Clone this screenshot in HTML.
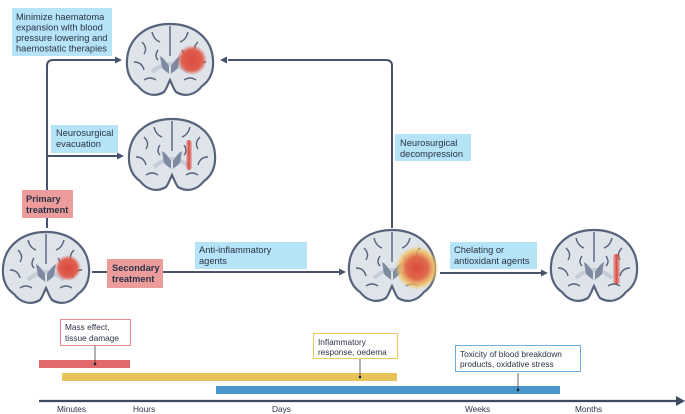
<!DOCTYPE html>
<html><head><meta charset="utf-8"><style>
body{margin:0;background:#fff;}
svg{display:block;font-family:"Liberation Sans",sans-serif;}
</style></head><body>
<svg width="685" height="414" viewBox="0 0 685 414" xmlns="http://www.w3.org/2000/svg">
<defs>
<g id="brain">
<path d="M46 2 C20 2 4 18 3 38 C2 52 8 60 14 64 C20 72 30 76 40 70 C43 66 44 62 46 58 C48 62 49 66 52 70 C62 76 72 72 78 64 C84 60 90 52 89 38 C88 18 72 2 46 2 Z" fill="#dfe3ea" stroke="#56637a" stroke-width="2.2"/>
<path d="M46 4 V34 M18 20 q6 6 2 12 M28 10 q2 8 8 10 M64 10 q-2 8 -8 10 M74 20 q-6 6 -2 12 M10 40 q8 0 10 8 M82 40 q-8 0 -10 8 M20 58 q6 -4 12 0 M72 58 q-6 -4 -12 0 M34 28 q-4 6 0 10 M58 28 q4 6 0 10" fill="none" stroke="#56637a" stroke-width="1.4"/>
<path d="M28 50 q18 -16 36 0" fill="none" stroke="#c6ccd7" stroke-width="4"/>
<path d="M36 34 q4 2 9 10 v8 h2 v-8 q5 -8 9 -10 l-2 12 q-4 4 -8 6 q-4 -2 -8 -6 Z" fill="#7d8aa0"/>
</g>
<radialGradient id="rd"><stop offset="0" stop-color="#d94a3f"/><stop offset=".7" stop-color="#e06050"/><stop offset="1" stop-color="#e06050" stop-opacity="0"/></radialGradient>
<radialGradient id="ry"><stop offset="0" stop-color="#d94a3f"/><stop offset=".5" stop-color="#e06a4a"/><stop offset=".8" stop-color="#f0c060" stop-opacity=".8"/><stop offset="1" stop-color="#f5d070" stop-opacity="0"/></radialGradient>
<linearGradient id="rs" x1="0" x2="1"><stop offset="0" stop-color="#e06050" stop-opacity=".3"/><stop offset=".5" stop-color="#d94a3f"/><stop offset="1" stop-color="#e06050" stop-opacity=".3"/></linearGradient>
</defs>
<g stroke="#46536b" stroke-width="2" fill="none">
<path d="M47 228 V66 q0 -6 6 -6 H116"/>
<path d="M47 156 H118"/>
<path d="M92 272 H340"/>
<path d="M392 228 V66 q0 -6 -6 -6 H228"/>
<path d="M440 273 H542"/>
</g>
<g fill="#46536b">
<path d="M122 60 l-7 -3.5 v7 Z"/><path d="M124 156 l-7 -3.5 v7 Z"/>
<path d="M346 272 l-7 -3.5 v7 Z"/><path d="M220 60 l7 -3.5 v7 Z"/><path d="M548 273 l-7 -3.5 v7 Z"/>
</g>
<use href="#brain" x="124" y="22"/>
<circle cx="192" cy="60" r="15" fill="url(#rd)"/>
<use href="#brain" x="126" y="117"/>
<rect x="186" y="140" width="6" height="30" rx="3" fill="url(#rs)"/>
<use href="#brain" x="0" y="230"/>
<circle cx="68" cy="268" r="13" fill="url(#rd)"/>
<use href="#brain" x="346" y="228"/>
<circle cx="417" cy="268" r="22" fill="url(#ry)"/>
<use href="#brain" x="548" y="228"/>
<rect x="613" y="254" width="7" height="30" rx="3" fill="url(#rs)"/>
<g fill="#b5e3f7">
<rect x="12" y="8" width="100" height="48"/>
<rect x="51" y="125" width="67" height="28"/>
<rect x="195" y="242" width="112" height="27"/>
<rect x="395" y="134" width="76" height="27"/>
<rect x="450" y="242" width="87" height="27"/>
</g>
<g fill="#ed9c9c"><rect x="22" y="190" width="51" height="28"/><rect x="107" y="259" width="56" height="29"/></g>
<g font-size="9.3" fill="#2a3244">
<text x="16" y="20">Minimize haematoma</text><text x="16" y="30.5">expansion with blood</text><text x="16" y="41">pressure lowering and</text><text x="16" y="51.5">haemostatic therapies</text>
<text x="56" y="136">Neurosurgical</text><text x="56" y="147">evacuation</text>
<text x="199" y="253">Anti-inflammatory</text><text x="199" y="264">agents</text>
<text x="400" y="146">Neurosurgical</text><text x="400" y="157">decompression</text>
<text x="454" y="253">Chelating or</text><text x="454" y="264">antioxidant agents</text>
</g>
<g font-size="9.3" font-weight="bold" fill="#2a3244">
<text x="26" y="202">Primary</text><text x="26" y="213">treatment</text>
<text x="112" y="271">Secondary</text><text x="112" y="282">treatment</text>
</g>
<rect x="39" y="360" width="91" height="8" fill="#e06a6a"/>
<rect x="62" y="373" width="335" height="8" fill="#e8c35a"/>
<rect x="216" y="386" width="344" height="8" fill="#4a97cc"/>
<g stroke="#3a3a3a" stroke-width="0.8"><path d="M95 345 V364 M360 358 V377 M518 373 V390"/></g>
<g fill="#222"><circle cx="95" cy="364" r="1.3"/><circle cx="360" cy="377" r="1.3"/><circle cx="518" cy="390" r="1.3"/></g>
<rect x="60.5" y="319.5" width="70" height="26" fill="#fff" stroke="#e88a8a"/>
<rect x="313.5" y="333.5" width="84" height="25" fill="#fff" stroke="#ecc860"/>
<rect x="455.5" y="345.5" width="125" height="26" fill="#fff" stroke="#6aaee0"/>
<g font-size="8.3" fill="#2a3244">
<text x="65" y="330">Mass effect,</text><text x="65" y="341">tissue damage</text>
<text x="318" y="345">Inflammatory</text><text x="318" y="355">response, oedema</text>
<text x="460" y="357">Toxicity of blood breakdown</text><text x="460" y="367">products, oxidative stress</text>
</g>
<path d="M39 401 H678" stroke="#3e4a63" stroke-width="2.2"/>
<path d="M685 401 l-9 -5 v10 Z" fill="#3e4a63"/>
<g font-size="8.3" fill="#2a3244">
<text x="57" y="412">Minutes</text><text x="133" y="412">Hours</text><text x="272" y="412">Days</text><text x="465" y="412">Weeks</text><text x="575" y="412">Months</text>
</g>
</svg>
</body></html>
